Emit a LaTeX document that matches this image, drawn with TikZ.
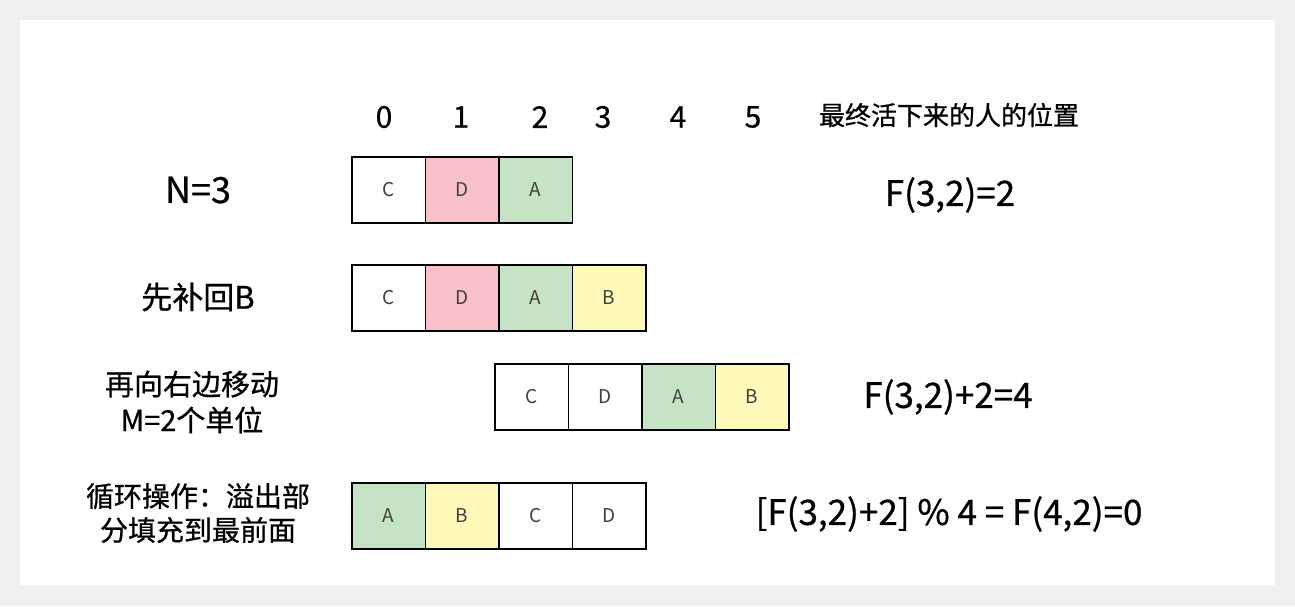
\documentclass[tikz,border=0pt]{standalone}
\usepackage{fontspec}
\setmainfont{Noto Sans CJK SC}
\newfontfamily\med{Noto Sans CJK SC}[FakeBold=0.7]
\begin{document}
\begin{tikzpicture}[x=1pt,y=-1pt,
  cell/.style={draw=black,line width=1.6pt,minimum width=73.5pt,minimum height=66pt,inner sep=0pt,font=\fontsize{19}{22}\selectfont,text=black!75,anchor=north west},
  idx/.style={font=\med\fontsize{30}{32}\selectfont},
  lbl/.style={font=\med\fontsize{29}{36}\selectfont,align=center},
  frm/.style={font=\med\fontsize{35}{38}\selectfont}]
\definecolor{pk}{HTML}{F7C0CA}\definecolor{gr}{HTML}{C6E3C5}\definecolor{yl}{HTML}{FFF9B9}
\useasboundingbox (0,0) rectangle (1295,606);
\fill[black!6] (0,0) rectangle (1295,606);
\fill[white] (20,20) rectangle (1275,585);
\foreach \t/\x in {0/384,1/461,2/540,3/603,4/678,5/753} \node[idx] (i\t) at (\x,117) {\t};
\node[font=\med\fontsize{26}{28}\selectfont] (title) at (949,115) {最终活下来的人的位置};
% row1
\node[cell,fill=white] (a1) at (351,156) {C};
\node[cell,fill=pk] (a2) at (424.5,156) {D};
\node[cell,fill=gr] (a3) at (498,156) {A};
% row2
\node[cell,fill=white] (b1) at (351,264) {C};
\node[cell,fill=pk] (b2) at (424.5,264) {D};
\node[cell,fill=gr] (b3) at (498,264) {A};
\node[cell,fill=yl] (b4) at (571.5,264) {B};
% row3
\node[cell,fill=white] (c1) at (494,363) {C};
\node[cell,fill=white] (c2) at (567.5,363) {D};
\node[cell,fill=gr] (c3) at (641,363) {A};
\node[cell,fill=yl] (c4) at (714.5,363) {B};
% row4
\node[cell,fill=gr] (d1) at (351,482) {A};
\node[cell,fill=yl] (d2) at (424.5,482) {B};
\node[cell,fill=white] (d3) at (498,482) {C};
\node[cell,fill=white] (d4) at (571.5,482) {D};
\node[lbl,font=\med\fontsize{36}{38}\selectfont] (l1) at (198,190) {N=3};
\node[lbl,font=\med\fontsize{31}{36}\selectfont] (l2) at (198,297) {先补回B};
\node[lbl] (l3) at (192,402) {再向右边移动\\M=2个单位};
\node[lbl,font=\med\fontsize{28}{34}\selectfont] (l4) at (198,513) {循环操作：溢出部\\分填充到最前面};
\node[frm] (r1) at (950,195) {F(3,2)=2};
\node[frm] (r3) at (948,397) {F(3,2)+2=4};
\node[frm] (r4) at (949,514) {[F(3,2)+2] \% 4 = F(4,2)=0};
\end{tikzpicture}
\end{document}
